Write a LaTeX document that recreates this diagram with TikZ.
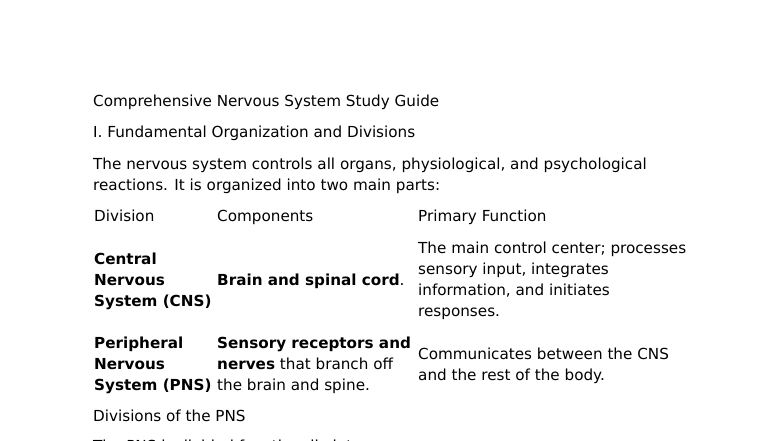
\documentclass[tikz,border=0pt]{standalone}
\usepackage{fontspec}
\setmainfont{DejaVu Sans}
\begin{document}
\begin{tikzpicture}[x=1pt,y=-1pt,t/.style={anchor=base west,inner sep=0pt,font=\fontsize{15.2}{21}\selectfont}]
\useasboundingbox (0,0) rectangle (784,441);
\clip (0,0) rectangle (784,441);
\fill[white] (0,0) rectangle (784,441);
\node[t] (a) at (93,107) {Comprehensive Nervous System Study Guide};
\node[t] (b) at (93,138) {I. Fundamental Organization and Divisions};
\node[t] (c) at (93,169) {The nervous system controls all organs, physiological, and psychological};
\node[t] (d) at (93,190) {reactions. It is organized into two main parts:};
\node[t] (h1) at (94,221) {Division};
\node[t] (h2) at (217,221) {Components};
\node[t] (h3) at (418,221) {Primary Function};
\node[t] (c1) at (94,264) {\textbf{Central}};
\node[t] (c2) at (94,285) {\textbf{Nervous}};
\node[t] (c3) at (94,306) {\textbf{System (CNS)}};
\node[t] (cc) at (217,285) {\textbf{Brain and spinal cord}.};
\node[t] (f1) at (418,253) {The main control center; processes};
\node[t] (f2) at (418,274) {sensory input, integrates};
\node[t] (f3) at (418,295) {information, and initiates};
\node[t] (f4) at (418,316) {responses.};
\node[t] (p1) at (94,348) {\textbf{Peripheral}};
\node[t] (p2) at (94,369) {\textbf{Nervous}};
\node[t] (p3) at (94,390) {\textbf{System (PNS)}};
\node[t] (q1) at (217,348) {\textbf{Sensory receptors and}};
\node[t] (q2) at (217,369) {\textbf{nerves} that branch off};
\node[t] (q3) at (217,390) {the brain and spine.};
\node[t] (g1) at (418,359) {Communicates between the CNS};
\node[t] (g2) at (418,380) {and the rest of the body.};
\node[t] (e) at (93,421) {Divisions of the PNS};
\node[t] (z) at (93,451) {The PNS is divided functionally into:};
\end{tikzpicture}
\end{document}
